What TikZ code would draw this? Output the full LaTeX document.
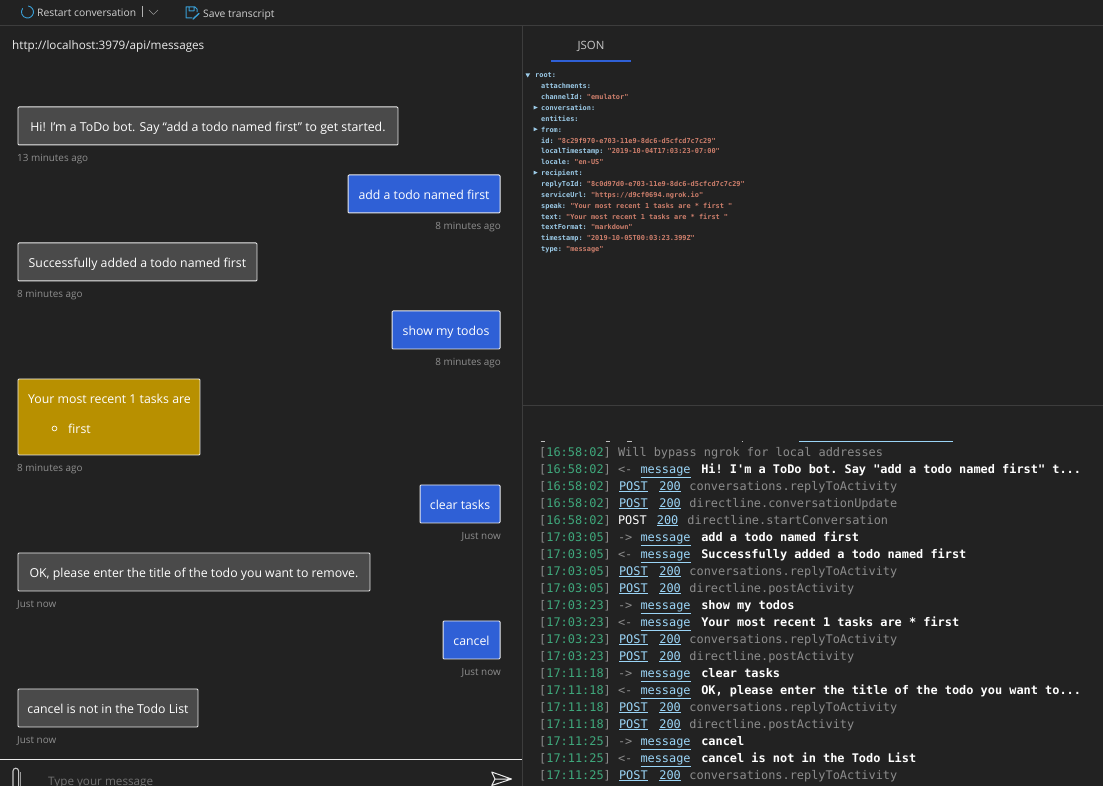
\documentclass[tikz,border=0pt]{standalone}
\usepackage{fontspec}
\setmainfont{Open Sans}
\setmonofont{DejaVu Sans Mono}
\usetikzlibrary{arrows.meta, calc}
\definecolor{panelbg}{HTML}{222222}
\definecolor{rulegray}{HTML}{3D3D3D}
\definecolor{botgray}{HTML}{4A4A4A}
\definecolor{userblue}{HTML}{2F60D6}
\definecolor{goldbox}{HTML}{B89000}
\definecolor{agegray}{HTML}{8E8E8E}
\definecolor{iconblue}{HTML}{3A9FD6}
\definecolor{jsonkey}{HTML}{9CCBE8}
\definecolor{jsonval}{HTML}{CE7F6C}
\definecolor{logtime}{HTML}{3FA87C}
\definecolor{loglink}{HTML}{9BD5F7}
\definecolor{loggray}{HTML}{8C8C8C}
\tikzset{
	botmsg/.style={draw=white!92!black, line width=0.9pt, fill=botgray, text=white, rounded corners=1pt,
		anchor=north west, minimum height=38pt, inner sep=0pt, text height=12pt, text depth=0pt, font=\fontsize{12.3}{15}\selectfont},
	usermsg/.style={botmsg, fill=userblue, anchor=north east},
	agelabel/.style={text=agegray, inner sep=0pt, font=\fontsize{9.9}{11}\selectfont},
	cardtext/.style={inner sep=0pt, anchor=west, text=white, font=\fontsize{12.3}{15}\selectfont},
	jsonrow/.style={anchor=base west, inner sep=0pt, text=jsonkey, font=\fontsize{6.9}{8}\ttfamily\bfseries},
	logrow/.style={anchor=base west, inner sep=0pt, font=\fontsize{11.9}{14}\ttfamily},
	chrome/.style={text=white!82!black, inner sep=0pt, font=\fontsize{10.3}{12}\selectfont},
}
\newcommand{\logstamp}[1]{\textcolor{loggray}{[}\textcolor{logtime}{#1}\textcolor{loggray}{]}}
\begin{document}
\begin{tikzpicture}[x=1pt, y=-1pt, line cap=round, line join=round]
		\useasboundingbox (0,0) rectangle (1103,786);
		\fill[panelbg] (0,0) rectangle (1103,786);
		
		% ===== Top bar =====
		\draw[rulegray, line cap=butt] (0,25.5) -- (1103,25.5);
		\draw[rulegray, line cap=butt] (522.5,25) -- (522.5,786);
		\draw[rulegray, line cap=butt] (522,405.5) -- (1103,405.5);
		% restart icon
		\draw[iconblue, line width=0.9pt] (28.5,6.1) arc[start angle=-80, end angle=215, radius=6];
		\node[chrome, anchor=west] (restart) at (37,13) {Restart conversation};
		\draw[white!70!black, line cap=butt] (142.5,6) -- (142.5,17);
		\draw[white!60!black, line width=0.6pt] (149,10) -- (153.5,14.5) -- (158,10);
		% save icon
		\draw[iconblue, line width=1pt] (186,18) -- (186,7) -- (195,7) -- (197,9) -- (197,12) (189,7) -- (189,11) -- (194,11) -- (194,7) (186,18) -- (192,18);
		\draw[iconblue, line width=1.4pt] (193,19) -- (199,13.5);
		\node[chrome, anchor=west] (save) at (203,15) {Save transcript};
		\node[anchor=west, inner sep=0pt, text=white!92!black, font=\fontsize{11.7}{14}\selectfont] (endpoint) at (12,46) {http://localhost:3979/api/messages};
		
		% ===== Left: conversation =====
		\node[botmsg, minimum width=380pt] (hello) at (17.5,106.5) {Hi! I'm a ToDo bot. Say “add a todo named first” to get started.};
		\node[agelabel, anchor=west] (helloage) at (17,159) {13 minutes ago};
		\node[usermsg, minimum width=152pt] (addtodo) at (500.5,174.5) {add a todo named first};
		\node[agelabel, anchor=east] (addage) at (501,227) {8 minutes ago};
		\node[botmsg, minimum width=239pt] (added) at (17.5,242.5) {Successfully added a todo named first};
		\node[agelabel, anchor=west] (addedage) at (17,295) {8 minutes ago};
		\node[usermsg, minimum width=108pt] (showtodos) at (500.5,310.5) {show my todos};
		\node[agelabel, anchor=east] (showage) at (501,363) {8 minutes ago};
		% gold card with its list
		\node[botmsg, fill=goldbox, minimum width=182pt, minimum height=76pt] (recent) at (17.5,378.5) {};
		\node[cardtext] (recenttext) at (28,398.5) {Your most recent 1 tasks are};
		\node[cardtext] (recentitem) at (68,428.5) {first};
		\draw[white!90!goldbox, line width=0.8pt] (54.5,428.5) circle (2.4);
		\node[agelabel, anchor=west] (recentage) at (17,469) {8 minutes ago};
		\node[usermsg, minimum width=80pt] (cleartasks) at (500.5,484.5) {clear tasks};
		\node[agelabel, anchor=east] (clearage) at (501,537) {Just now};
		\node[botmsg, minimum width=352pt] (prompt) at (17.5,552.5) {OK, please enter the title of the todo you want to remove.};
		\node[agelabel, anchor=west] (promptage) at (17,605) {Just now};
		\node[usermsg, minimum width=57pt] (cancel) at (500.5,620.5) {cancel};
		\node[agelabel, anchor=east] (cancelage) at (501,673) {Just now};
		\node[botmsg, minimum width=180pt] (notlisted) at (17.5,688.5) {cancel is not in the Todo List};
		\node[agelabel, anchor=west] (notlistedage) at (17,741) {Just now};
		
		% input line
		\draw[white!92!black, line width=0.9pt, line cap=butt] (0,759.5) -- (522,759.5);
		\draw[white!78!black, line width=1.1pt] (13,786) -- (13,771) arc[start angle=180, end angle=360, radius=2.8] -- (18.6,786);
		\draw[white!60!black, line width=1pt, line cap=butt] (20.8,772) -- (20.8,786);
		\node[anchor=base west, inner sep=0pt, text=white!45!black, font=\fontsize{11.7}{14}\selectfont] (typehere) at (48,785) {Type your message};
		\draw[white!92!black, line width=1pt] (491.7,772) -- (511.5,779) -- (491.7,785.5) -- (495,779) -- cycle (495,779) -- (511.5,779);
		
		% ===== Right: JSON inspector =====
		\node[inner sep=0pt, text=white!78!black, font=\fontsize{11.4}{13}\selectfont] (jsontab) at (591,46) {JSON};
		\draw[userblue, line width=1.4pt, line cap=butt] (551,61) -- (631,61);
		\fill[jsonkey] (525.5,73.5) -- (530,73.5) -- (527.7,77.5) -- cycle;
		\foreach \row in {3,5,9}
			\fill[jsonkey] ({533.5},{75+10.85*\row-2}) -- ++(4.2,2) -- ++(-4.2,2) -- cycle;
		\node[jsonrow] (rootkey) at (535,78) {root:};
		\foreach \row/\rowkey/\rowval in {1/attachments:/, 2/channelId:/"emulator",
				3/conversation:/, 4/entities:/, 5/from:/, 6/id:/"8c29f970-e703-11e9-8dc6-d5cfcd7c7c29",
				7/localTimestamp:/"2019-10-04T17:03:23-07:00", 8/locale:/"en-US", 9/recipient:/,
				10/replyToId:/"8c0d97d0-e703-11e9-8dc6-d5cfcd7c7c29", 11/serviceUrl:/{"https://d9cf0694.ngrok.io"},
				12/speak:/"Your most recent 1 tasks are * first ", 13/text:/"Your most recent 1 tasks are * first ",
				14/textFormat:/"markdown", 15/timestamp:/"2019-10-05T00:03:23.399Z", 16/type:/"message"}
			\node[jsonrow] (json\row) at (541,{78+10.85*\row}) {\rowkey\ \textcolor{jsonval}{\rowval}};
		
		% ===== Right: log panel =====
		% last line that scrolled out of view
		\draw[white!75!black, line width=1pt, line cap=butt] (540.5,441) -- (545,441) (605.5,441) -- (610,441) (627,441) -- (632,441) (741.5,441) -- (742.5,441);
		\draw[loglink, line width=0.8pt, line cap=butt] (799,441.5) -- (953,441.5);
		\node[logrow, text=loggray] (log1) at (539,456) {\logstamp{16:58:02} Will bypass ngrok for local addresses};
		% chat activity lines
		\foreach \row/\logat/\logdir/\logtxt in {2/16:58:02/<-/{Hi! I'm a ToDo bot. Say "add a todo named first" t...},
				6/17:03:05/->/add a todo named first, 7/17:03:05/<-/Successfully added a todo named first,
				10/17:03:23/->/show my todos, 11/17:03:23/<-/Your most recent 1 tasks are * first,
				14/17:11:18/->/clear tasks, 15/17:11:18/<-/{OK, please enter the title of the todo you want to...},
				18/17:11:25/->/cancel, 19/17:11:25/<-/cancel is not in the Todo List}
			\node[logrow, text=loggray] (log\row) at (539,{439+17*\row}) {\logstamp{\logat} \logdir{}\hspace{1pt} \textcolor{loglink}{\underline{message}}\hspace{3.5pt} \textcolor{white}{\bfseries\logtxt}};
		% POST lines
		\foreach \row/\logat/\logtxt in {3/16:58:02/conversations.replyToActivity, 4/16:58:02/directline.conversationUpdate,
				8/17:03:05/conversations.replyToActivity, 9/17:03:05/directline.postActivity,
				12/17:03:23/conversations.replyToActivity, 13/17:03:23/directline.postActivity,
				16/17:11:18/conversations.replyToActivity, 17/17:11:18/directline.postActivity,
				20/17:11:25/conversations.replyToActivity}
			\node[logrow, text=loggray] (log\row) at (539,{439+17*\row}) {\logstamp{\logat}\hspace{1pt} \textcolor{loglink}{\underline{POST}}\hspace{4.5pt} \textcolor{loglink}{\underline{200}}\hspace{1.5pt} \logtxt};
		\node[logrow, text=loggray] (log5) at (539,524) {\logstamp{16:58:02} \textcolor{white}{POST}\hspace{3pt} \textcolor{loglink}{\underline{200}}\hspace{2pt} directline.startConversation};
		
	\end{tikzpicture}
\end{document}
